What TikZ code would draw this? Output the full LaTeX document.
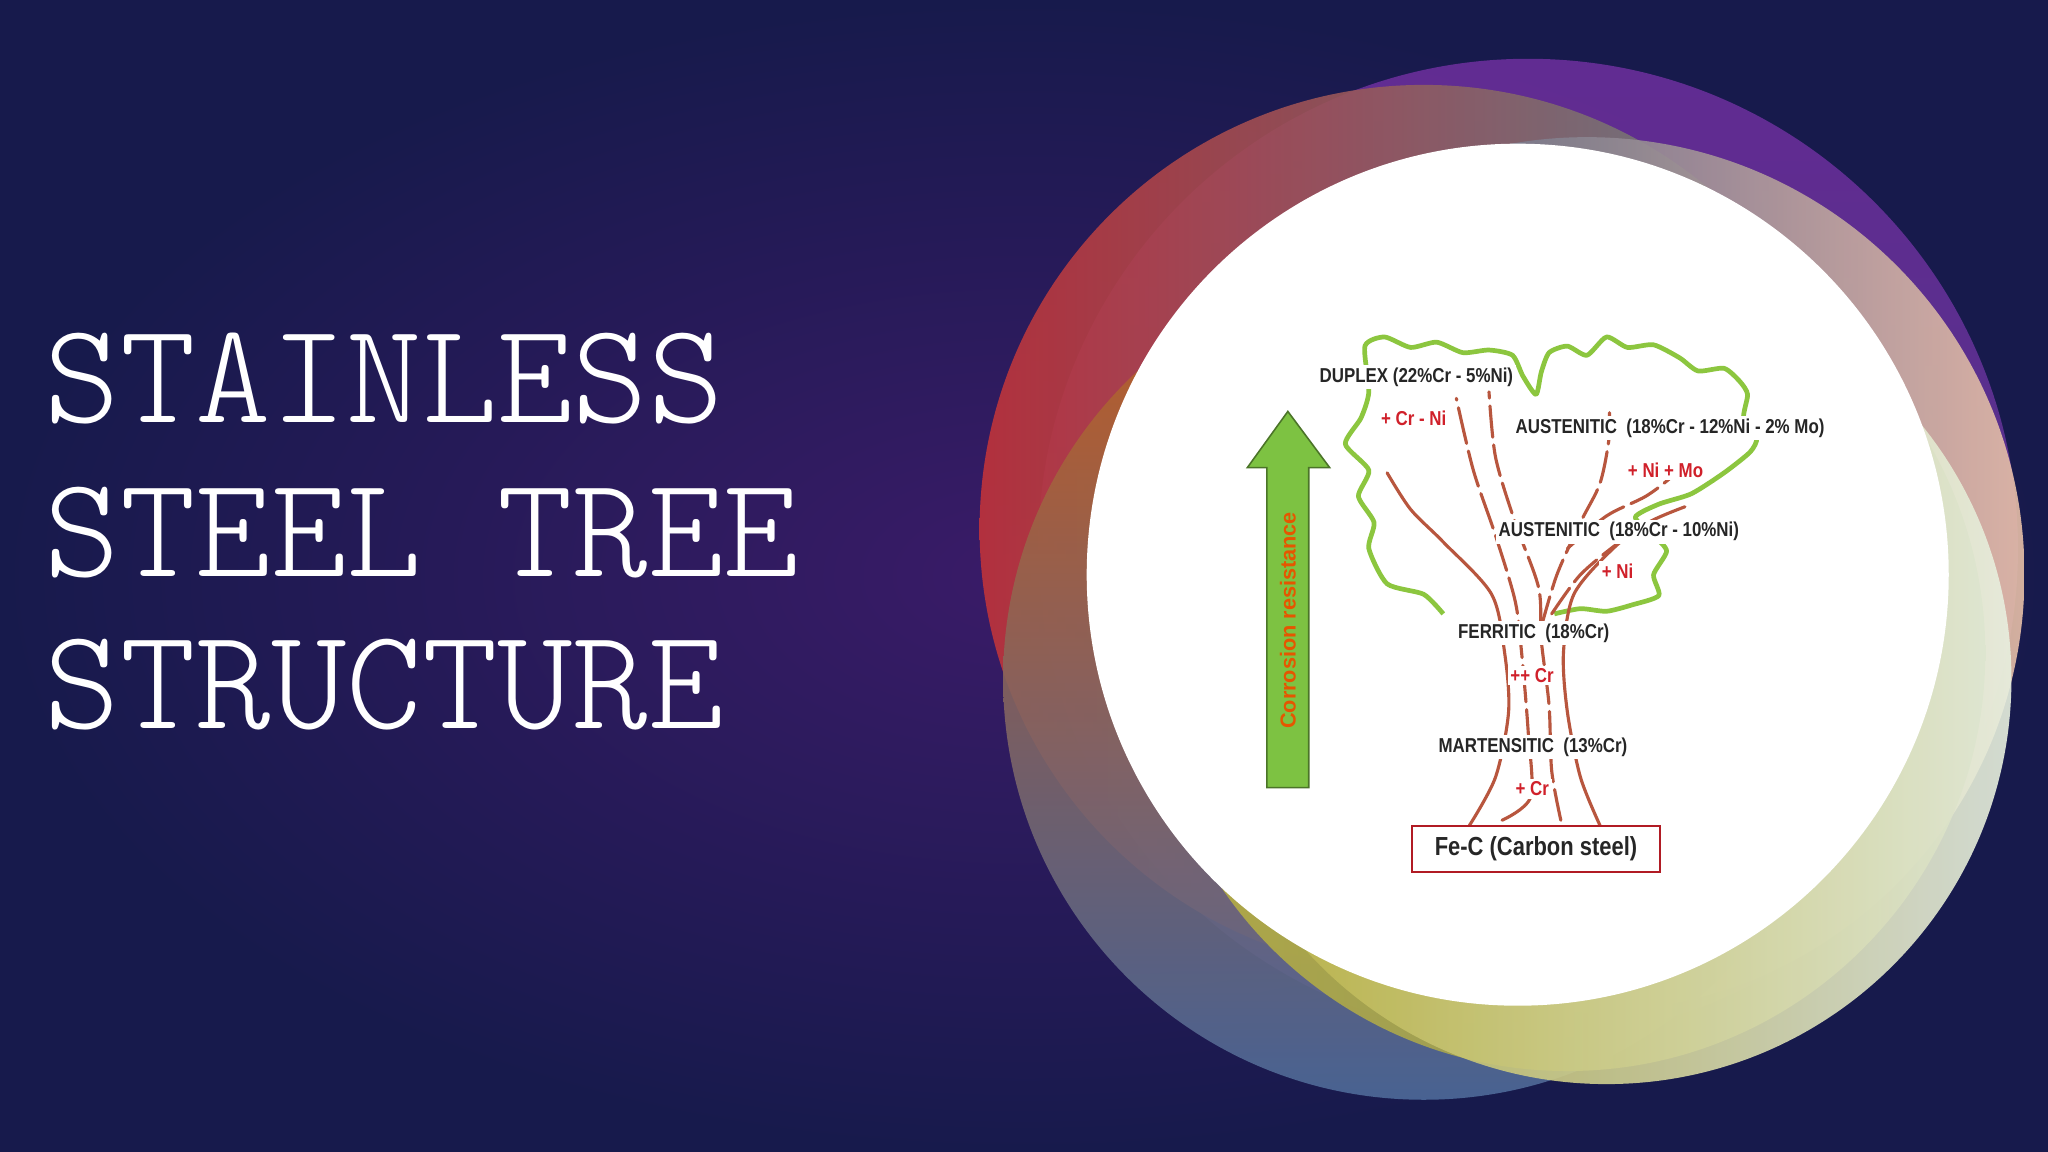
\documentclass[tikz,border=0pt]{standalone}
\usepackage{fontspec}
\setmainfont{Liberation Sans}
\newfontfamily\narrow[FakeStretch=0.84]{Liberation Sans}
\definecolor{bgout}{HTML}{171A4C}
\definecolor{bgin}{HTML}{3A1B68}
\definecolor{leaf}{HTML}{8CC63F}
\definecolor{branch}{HTML}{B8563E}
\definecolor{lred}{HTML}{D0202A}
\definecolor{arrowg}{HTML}{7DC242}
\definecolor{rpurple}{HTML}{6A2E9A}
\definecolor{rred}{HTML}{C0333A}
\definecolor{rteal}{HTML}{5E8A88}
\definecolor{rslate}{HTML}{2E4A7A}
\definecolor{rpeach}{HTML}{E8C0A8}
\definecolor{rorange}{HTML}{C0601E}
\definecolor{rgblue}{HTML}{4E6A9A}
\definecolor{rolive}{HTML}{B8B040}
\definecolor{rpale}{HTML}{E8F0E0}
\tikzset{
 lbl/.style={font=\narrow\bfseries\fontsize{7.7}{9}\selectfont, text=black!85, inner sep=1pt, fill=white},
 add/.style={font=\narrow\bfseries\fontsize{7.7}{9}\selectfont, text=lred, inner sep=1pt, fill=white},
 ttl/.style={font=\ttfamily\fontseries{l}\fontsize{55}{58}\selectfont, text=white, anchor=west, inner sep=0pt},
 br/.style={draw=branch, line width=1.2pt, line cap=round},
 ring/.style={fill opacity=0.9},
}
\begin{document}
\begin{tikzpicture}[x=0.5pt,y=-0.5pt]
\useasboundingbox (0,0) rectangle (1568,882);
\shade[inner color=bgin, outer color=bgout] (0,0) rectangle (1568,882);
% rings
\shade[ring, top color=rpurple, bottom color=rpurple!60!rslate] (1170,420) circle (375);
\shade[ring, left color=rred, right color=rteal] (1090,405) circle (340);
\shade[ring, left color=rslate, right color=rpeach] (1215,440) circle (335);
\shade[ring, top color=rorange, bottom color=rgblue] (1090,520) circle (322);
\shade[ring, left color=rolive, right color=rgblue!40!rolive] (1200,500) circle (320);
\shade[ring, left color=rolive, right color=rpale] (1230,520) circle (310);
\fill[white] (1162,440) circle (330);
% title
\node[ttl] (t1) at (34,290) {STAINLESS};
\node[ttl] (t2) at (34,408) {STEEL TREE};
\node[ttl] (t3) at (34,524) {STRUCTURE};
% canopy
\draw[leaf, line width=1.8pt, line join=round] plot[smooth, tension=0.4] coordinates {
(1105,470)(1090,455)(1062,447)(1048,420)(1052,400)(1040,380)(1048,360)(1030,340)(1042,320)(1048,300)(1045,265)(1060,258)(1080,266)(1100,262)(1120,270)(1140,268)(1158,272)(1166,288)(1176,302)(1180,285)(1186,270)(1200,265)(1215,272)(1230,258)(1246,266)(1266,264)(1286,274)(1300,284)(1320,282)(1332,292)(1338,302)(1335,320)(1345,335)(1340,346)(1320,362)(1295,378)(1270,386)(1252,396)(1266,410)(1276,422)(1266,440)(1270,456)(1250,463)(1230,468)(1210,466)(1190,470)};
% branches
\draw[br] plot[smooth] coordinates {(1125,632)(1145,595)(1155,545)(1152,500)(1142,455)(1105,415)(1080,390)(1062,362)};
\draw[br] plot[smooth] coordinates {(1225,632)(1210,595)(1200,545)(1197,500)(1205,455)(1235,420)(1262,400)(1290,388)};
\draw[br, dash pattern=on 14pt off 3pt] plot[smooth] coordinates {(1150,628)(1172,610)(1170,560)(1165,500)(1160,460)(1145,410)(1128,360)(1115,305)};
\draw[br, dash pattern=on 12pt off 3pt] plot[smooth] coordinates {(1195,628)(1188,590)(1186,540)(1180,490)(1178,450)(1160,400)(1145,350)(1140,300)};
\draw[br, dash pattern=on 12pt off 3pt] plot[smooth] coordinates {(1180,480)(1192,440)(1210,400)(1225,370)(1232,335)(1232,312)};
\draw[br, dash pattern=on 12pt off 3pt] plot[smooth] coordinates {(1188,470)(1210,440)(1240,415)(1258,405)};
\draw[br, dash pattern=on 12pt off 3pt] plot[smooth] coordinates {(1200,420)(1230,395)(1260,380)(1280,365)(1295,350)};
% arrow
\draw[draw=arrowg!60!black, fill=arrowg, line width=0.6pt] (970,603) -- (1002,603) -- (1002,358) -- (1018,358) -- (986,315) -- (955,358) -- (970,358) -- cycle;
\node[rotate=90, font=\bfseries\fontsize{8.3}{9}\selectfont, text=orange!75!red!90!black, inner sep=0pt] (cr) at (986,475) {Corrosion resistance};
% labels
\node[lbl, anchor=west] (dup) at (1008,289) {DUPLEX (22\%Cr - 5\%Ni)};
\node[add, anchor=west] (a1) at (1055,320) {+ Cr - Ni};
\node[lbl, anchor=west] (aus1) at (1158,328) {AUSTENITIC \ (18\%Cr - 12\%Ni - 2\% Mo)};
\node[add, anchor=west] (a2) at (1244,360) {+ Ni + Mo};
\node[lbl, anchor=west] (aus2) at (1145,407) {AUSTENITIC \ (18\%Cr - 10\%Ni)};
\node[add, anchor=west] (a3) at (1224,437) {+ Ni};
\node[lbl, anchor=west] (fer) at (1114,485) {FERRITIC \ (18\%Cr)};
\node[add, anchor=west] (a4) at (1154,517) {++ Cr};
\node[lbl, anchor=west] (mar) at (1099,572) {MARTENSITIC \ (13\%Cr)};
\node[add, anchor=west] (a5) at (1158,604) {+ Cr};
\node[draw=lred!85!black, line width=1pt, minimum width=95pt, minimum height=17.5pt, fill=white, font=\narrow\bfseries\fontsize{10}{11}\selectfont, text=black!85] (fec) at (1176,650) {Fe-C (Carbon steel)};
\end{tikzpicture}
\end{document}
